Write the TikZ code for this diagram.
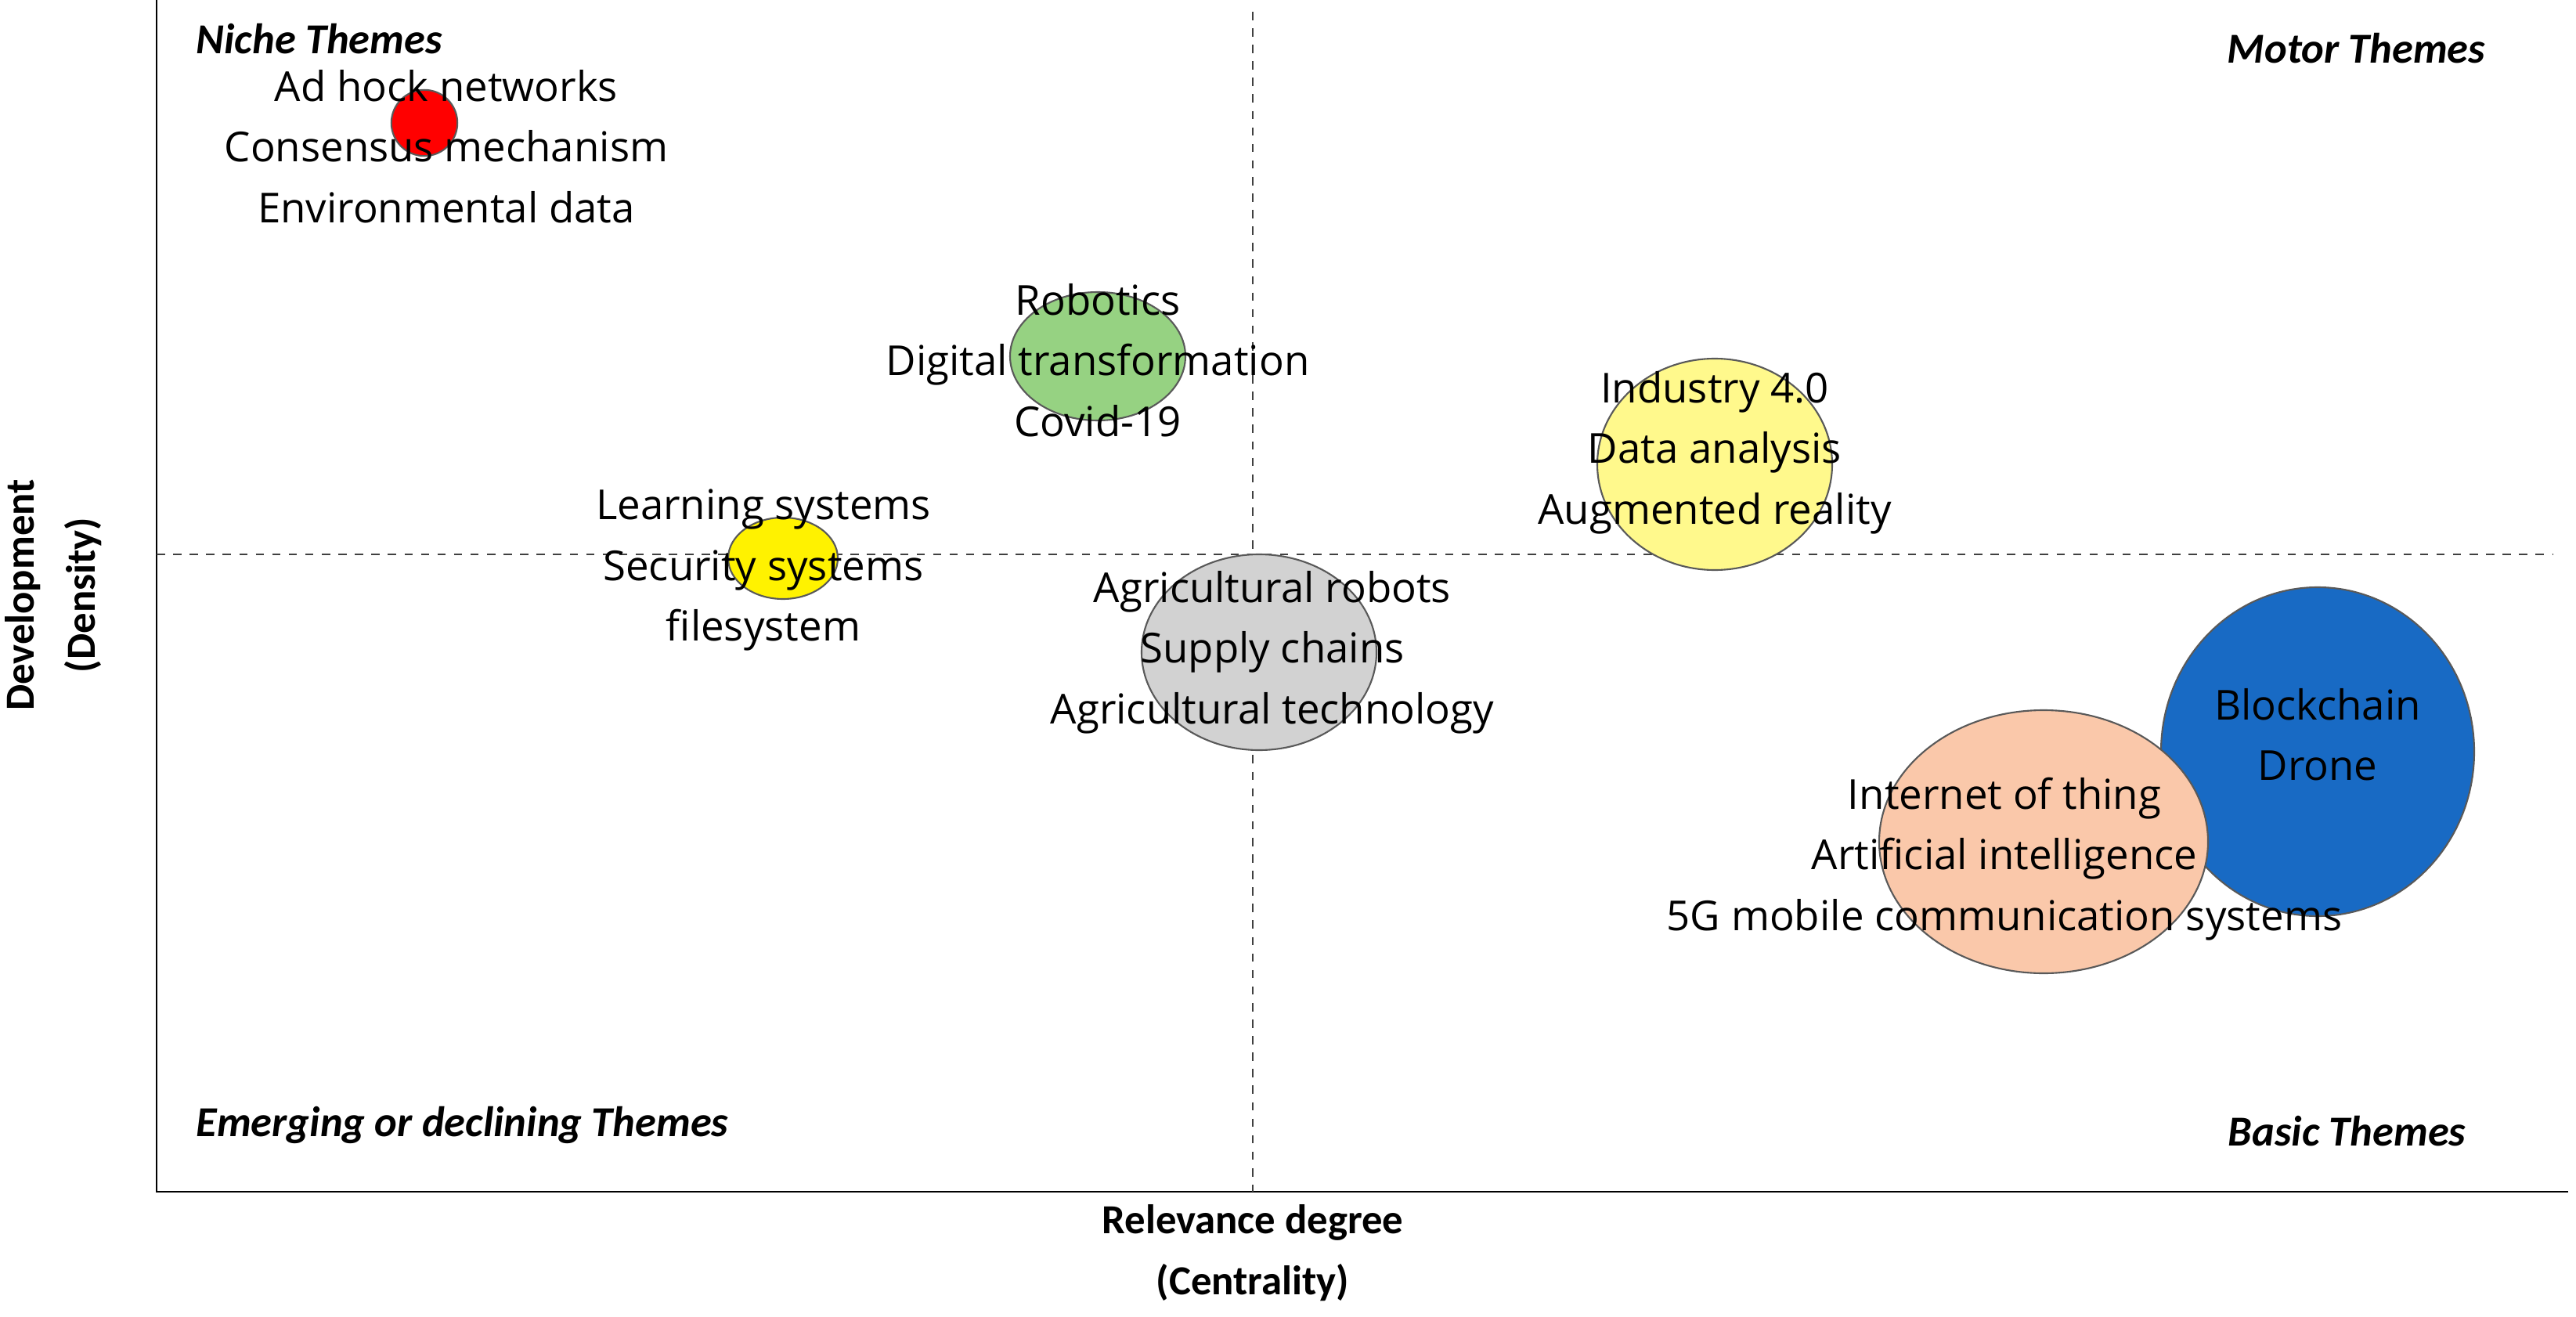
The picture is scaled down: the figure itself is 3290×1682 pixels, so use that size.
\documentclass[tikz,border=0pt]{standalone}
\usepackage{fontspec}
\setmainfont{Open Sans}
\newfontfamily\lab{Carlito}
\begin{document}
\begin{tikzpicture}[x=0.01cm,y=-0.01cm,
  txt/.style={font=\fontsize{15}{18}\selectfont, align=center, inner sep=0},
  theme/.style={font=\lab\bfseries\itshape\fontsize{15.5}{18}\selectfont, inner sep=0},
  axlab/.style={font=\lab\bfseries\fontsize{15}{18}\selectfont, inner sep=0, align=center},
  bub/.style={draw=gray!70!black, line width=0.6pt},
  dline/.style={dashed, draw=black!75, line width=0.8pt}]
\useasboundingbox (0,0) rectangle (3290,1682);
\coordinate (o) at (200,1522);
\coordinate (top) at (200,0);
\coordinate (right) at (3280,1522);
\draw[line width=0.8pt] (top) -- (o) -- (right);
\coordinate (vt) at (1600,15); \coordinate (vb) at (1600,1522);
\coordinate (hl) at (200,708); \coordinate (hr) at (3260,708);
\draw[dline] (vt) -- (vb);
\draw[dline] (hl) -- (hr);
\node[theme, anchor=west] (niche) at (250,50) {Niche Themes};
\node[theme, anchor=east] (motor) at (3175,62) {Motor Themes};
\node[theme, anchor=west] (emerg) at (250,1437) {Emerging or declining Themes};
\node[theme, anchor=east] (basic) at (3150,1445) {Basic Themes};
\node[axlab] (xl) at (1600,1600) {Relevance degree\\[4pt](Centrality)};
\node[axlab, rotate=90] (yl) at (68,760) {Development\\[4pt](Density)};
% bubbles
\node[bub, fill=red, circle, minimum size=24, inner sep=0] (b0) at (542,157) {};
\draw[bub, fill={rgb,255:red,150;green,210;blue,130}] (1402,455) ellipse (112 and 82);
\draw[bub, fill=yellow] (1000,713) ellipse (70 and 52);
\draw[bub, fill=gray!35] (1608,833) ellipse (150 and 125);
\draw[bub, fill=yellow!45!white] (2190,593) ellipse (150 and 135);
\draw[bub, fill={rgb,255:red,24;green,106;blue,196}] (2960,960) ellipse (200 and 210);
\draw[bub, fill={rgb,255:red,250;green,200;blue,170}] (2610,1075) ellipse (210 and 168);
% texts
\node[txt] (t0) at (570,187) {Ad hock networks\\[4pt]Consensus mechanism\\[4pt]Environmental data};
\node[txt] (t1) at (1402,460) {Robotics\\[4pt]Digital transformation\\[4pt]Covid-19};
\node[txt] (t2) at (975,728) {Learning systems\\[4pt]Security systems\\[4pt]filesystem};
\node[txt] (t3) at (1625,833) {Agricultural robots\\[4pt]Supply chains\\[4pt]Agricultural technology};
\node[txt] (t4) at (2190,578) {Industry 4.0\\[4pt]Data analysis\\[4pt]Augmented reality};
\node[txt] (t5) at (2960,938) {Blockchain\\[4pt]Drone};
\node[txt] (t6) at (2560,1097) {Internet of thing\\[4pt]Artificial intelligence\\[4pt]5G mobile communication systems};
\end{tikzpicture}
\end{document}
